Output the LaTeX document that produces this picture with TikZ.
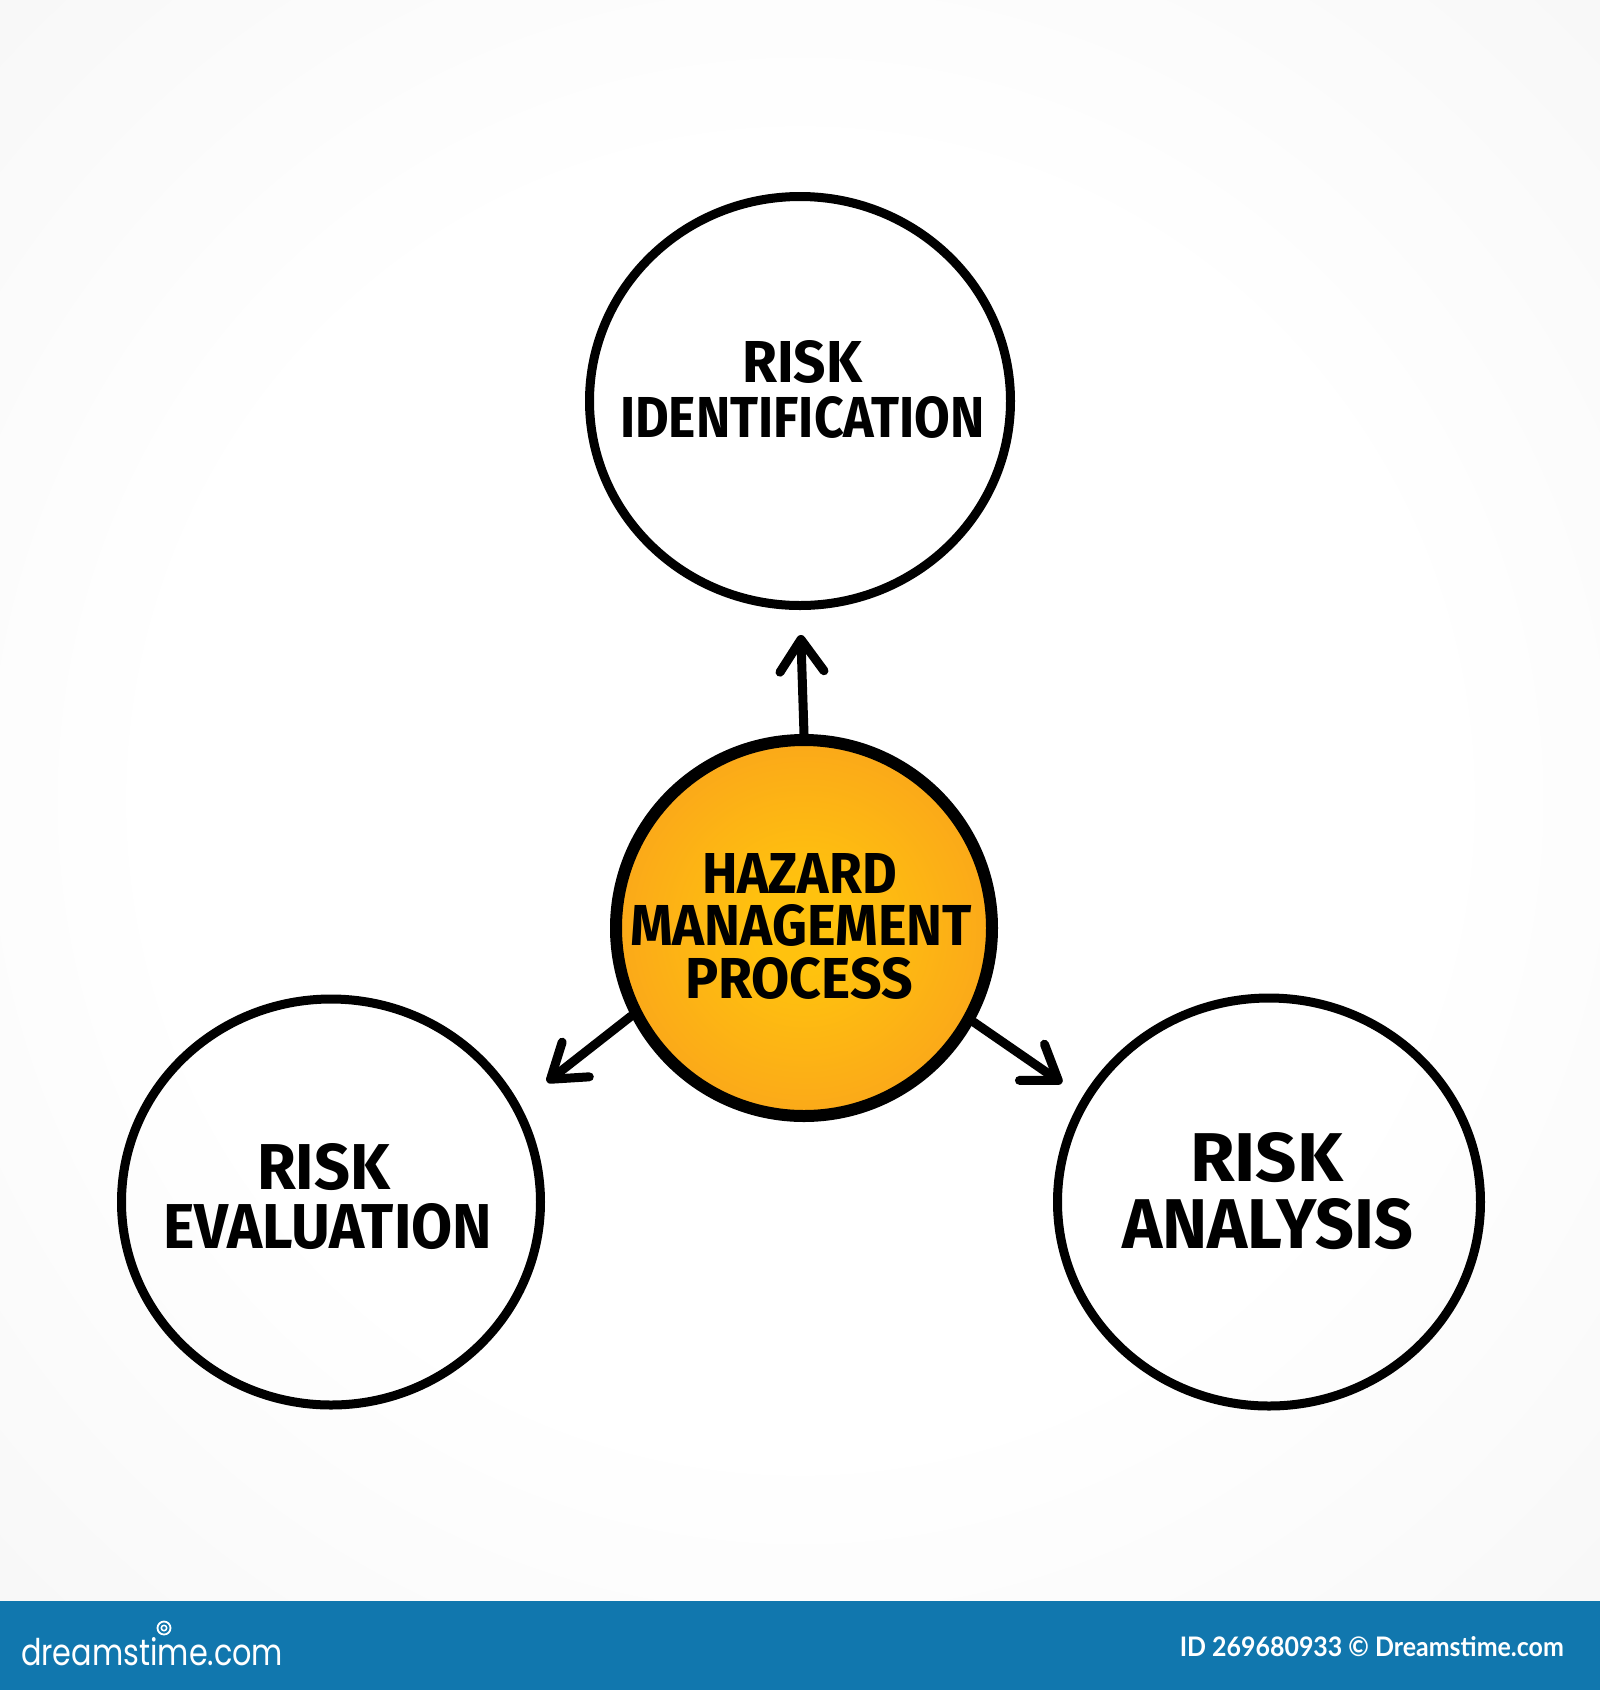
\documentclass[tikz,border=0pt]{standalone}
\usepackage{graphicx}
\usepackage{fontspec}
\setmainfont{Fira Sans}
\newfontfamily\logofont{Poppins}
\newfontfamily\idfont{Lato}
\usetikzlibrary{shapes.geometric,arrows.meta}
\definecolor{hubin}{RGB}{255,194,14}
\definecolor{hubmid}{RGB}{250,162,28}
\definecolor{hubout}{RGB}{245,142,30}
\definecolor{bgmid}{RGB}{241,241,241}
\definecolor{bgedge}{RGB}{229,229,229}
\definecolor{footblue}{RGB}{17,119,174}
\pgfdeclareradialshading{hubshade}{\pgfpoint{0bp}{0bp}}{color(0bp)=(hubin); color(6bp)=(hubin); color(30bp)=(hubmid); color(50bp)=(hubout)}
\pgfdeclareradialshading{bgshade}{\pgfpoint{0bp}{0bp}}{color(0bp)=(white); color(20bp)=(white); color(50bp)=(bgmid); color(71bp)=(bgedge)}
\newcommand\fitbox[3]{\resizebox{#1}{#2}{#3}}
\tikzset{
  ring/.style={ellipse, draw=black, line width=9pt, inner sep=0pt},
  hubstyle/.style={circle, draw=black, line width=12pt, shade, shading=hubshade, minimum size=376pt, inner sep=0pt},
  arr/.style={draw=black, line width=9pt, line cap=round,
    -{Straight Barb[length=32pt,width=44pt,line cap=round,line join=round]}},
  lbl/.style={inner sep=0pt, outer sep=0pt, anchor=north west, font=\bfseries}
}
\begin{document}
\begin{tikzpicture}[x=1pt,y=-1pt]
\useasboundingbox (0,0) rectangle (1600,1690);
% background
\shade[shading=bgshade] (0,0) rectangle (1600,1601);
\fill[footblue] (0,1601) rectangle (1600,1690);

% circles
\node[ring, minimum width=421pt, minimum height=409pt] (ident) at (800,401) {};
\node[ring, minimum width=419pt, minimum height=406pt] (evalc) at (331,1202) {};
\node[ring, minimum width=423pt, minimum height=408pt] (anac) at (1269,1202) {};
\node[hubstyle] (hub) at (804,928) {};

% labels
\node[lbl] (identA) at (742,340) {\fitbox{120pt}{42pt}{RISK}};
\node[lbl] (identB) at (620,396) {\fitbox{365pt}{41pt}{IDENTIFICATION}};
\node[lbl] (hubA) at (702,853) {\fitbox{195pt}{40pt}{HAZARD}};
\node[lbl] (hubB) at (630,904) {\fitbox{342pt}{41pt}{MANAGEMENT}};
\node[lbl] (hubC) at (685,957) {\fitbox{228pt}{41pt}{PROCESS}};
\node[lbl] (evalA) at (257,1143) {\fitbox{133pt}{46pt}{RISK}};
\node[lbl] (evalB) at (163,1203) {\fitbox{329pt}{45pt}{EVALUATION}};
\node[lbl] (anaA) at (1190,1132) {\fitbox{153pt}{49pt}{RISK}};
\node[lbl] (anaB) at (1122,1198) {\fitbox{291pt}{50pt}{ANALYSIS}};

% arrows
\coordinate (tipL) at (547,1082);
\coordinate (tipR) at (1062,1083);
\draw[arr, shorten >=25pt] (hub.north) -- (ident.south);
\draw[arr] (hub.207.5) -- (tipL);
\draw[arr] (hub.331.3) -- (tipR);

% footer
\node[anchor=south west, inner sep=0pt, text=white] (logo) at (21,1666)
  {\fitbox{262pt}{28pt}{\logofont dreamstime.com}};
\draw[white, line width=1.8pt] (164,1628) circle (6.5pt);
\draw[white, line width=1.5pt] (164,1628) circle (2.7pt);
\node[anchor=north east, inner sep=0pt, text=white] (stockid) at (1564,1636)
  {\fitbox{384pt}{20pt}{\idfont\bfseries ID 269680933 © Dreamstime.com}};
\end{tikzpicture}
\end{document}
